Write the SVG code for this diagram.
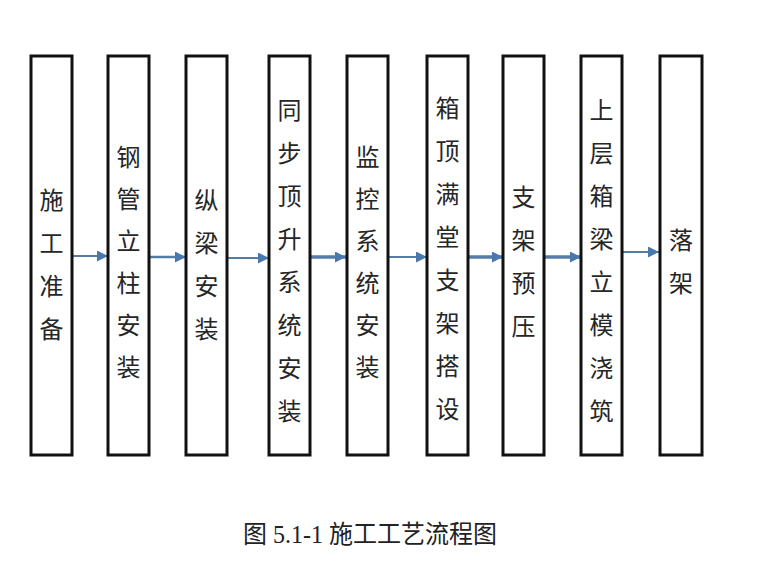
<svg xmlns="http://www.w3.org/2000/svg" width="760" height="570" viewBox="0 0 760 570">
<style>
.box{fill:#fff;stroke:#111;stroke-width:3}
.t{font-family:"Liberation Serif","Noto Sans CJK SC",serif;font-size:24px;fill:#262626;text-anchor:middle}
.a{stroke:#557ca6;fill:none}
.cap{font-family:"Liberation Serif","Noto Sans CJK SC",serif;font-size:25px;fill:#222}
</style>
<defs>
<marker id="ah" viewBox="0 0 10 10" refX="10" refY="5" markerWidth="11" markerHeight="11" markerUnits="userSpaceOnUse" orient="auto">
<path d="M0,0 L10,5 L0,10 Z" fill="#4a78ad"/>
</marker>
</defs>
<rect width="760" height="570" fill="#fff"/>
<g id="connectors">
<line class="a" x1="73" y1="256" x2="108" y2="256" stroke-width="2" marker-end="url(#ah)"/>
<line class="a" x1="150" y1="257" x2="186" y2="257" stroke-width="2.5" marker-end="url(#ah)"/>
<line class="a" x1="228" y1="258" x2="269" y2="258" stroke-width="2" marker-end="url(#ah)"/>
<line class="a" x1="311" y1="257" x2="346" y2="257" stroke-width="3.5" marker-end="url(#ah)"/>
<line class="a" x1="389" y1="257" x2="427" y2="257" stroke-width="2" marker-end="url(#ah)"/>
<line class="a" x1="468" y1="257" x2="503" y2="257" stroke-width="3.5" marker-end="url(#ah)"/>
<line class="a" x1="545" y1="257" x2="581" y2="257" stroke-width="3.5" marker-end="url(#ah)"/>
<line class="a" x1="623" y1="252" x2="659" y2="252" stroke-width="2" marker-end="url(#ah)"/>
</g>
<g id="n1"><rect class="box" x="31" y="56" width="41" height="399"/>
<text class="t" x="51.5" y="209">施</text><text class="t" x="51.5" y="252">工</text><text class="t" x="51.5" y="295">准</text><text class="t" x="51.5" y="338">备</text></g>
<g id="n2"><rect class="box" x="108" y="56" width="41" height="399"/>
<text class="t" x="128.5" y="166">钢</text><text class="t" x="128.5" y="208">管</text><text class="t" x="128.5" y="250">立</text><text class="t" x="128.5" y="292">柱</text><text class="t" x="128.5" y="334">安</text><text class="t" x="128.5" y="376">装</text></g>
<g id="n3"><rect class="box" x="186" y="56" width="41" height="399"/>
<text class="t" x="206.5" y="209">纵</text><text class="t" x="206.5" y="252">梁</text><text class="t" x="206.5" y="295">安</text><text class="t" x="206.5" y="338">装</text></g>
<g id="n4"><rect class="box" x="269" y="56" width="41" height="399"/>
<text class="t" x="289.5" y="119">同</text><text class="t" x="289.5" y="162">步</text><text class="t" x="289.5" y="205">顶</text><text class="t" x="289.5" y="248">升</text><text class="t" x="289.5" y="291">系</text><text class="t" x="289.5" y="334">统</text><text class="t" x="289.5" y="377">安</text><text class="t" x="289.5" y="420">装</text></g>
<g id="n5"><rect class="box" x="347" y="56" width="41" height="399"/>
<text class="t" x="367.5" y="166">监</text><text class="t" x="367.5" y="208">控</text><text class="t" x="367.5" y="250">系</text><text class="t" x="367.5" y="292">统</text><text class="t" x="367.5" y="334">安</text><text class="t" x="367.5" y="376">装</text></g>
<g id="n6"><rect class="box" x="427" y="56" width="41" height="399"/>
<text class="t" x="447.5" y="117">箱</text><text class="t" x="447.5" y="160">顶</text><text class="t" x="447.5" y="203">满</text><text class="t" x="447.5" y="246">堂</text><text class="t" x="447.5" y="289">支</text><text class="t" x="447.5" y="332">架</text><text class="t" x="447.5" y="375">搭</text><text class="t" x="447.5" y="418">设</text></g>
<g id="n7"><rect class="box" x="503" y="56" width="41" height="399"/>
<text class="t" x="523.5" y="206">支</text><text class="t" x="523.5" y="249">架</text><text class="t" x="523.5" y="292">预</text><text class="t" x="523.5" y="335">压</text></g>
<g id="n8"><rect class="box" x="581" y="56" width="41" height="399"/>
<text class="t" x="601.5" y="119">上</text><text class="t" x="601.5" y="162">层</text><text class="t" x="601.5" y="205">箱</text><text class="t" x="601.5" y="248">梁</text><text class="t" x="601.5" y="291">立</text><text class="t" x="601.5" y="334">模</text><text class="t" x="601.5" y="377">浇</text><text class="t" x="601.5" y="420">筑</text></g>
<g id="n9"><rect class="box" x="660" y="56" width="42" height="399"/>
<text class="t" x="681" y="249">落</text><text class="t" x="681" y="292">架</text></g>
<text class="cap" x="243" y="543" textLength="254" lengthAdjust="spacingAndGlyphs">图 5.1-1 施工工艺流程图</text>
</svg>
